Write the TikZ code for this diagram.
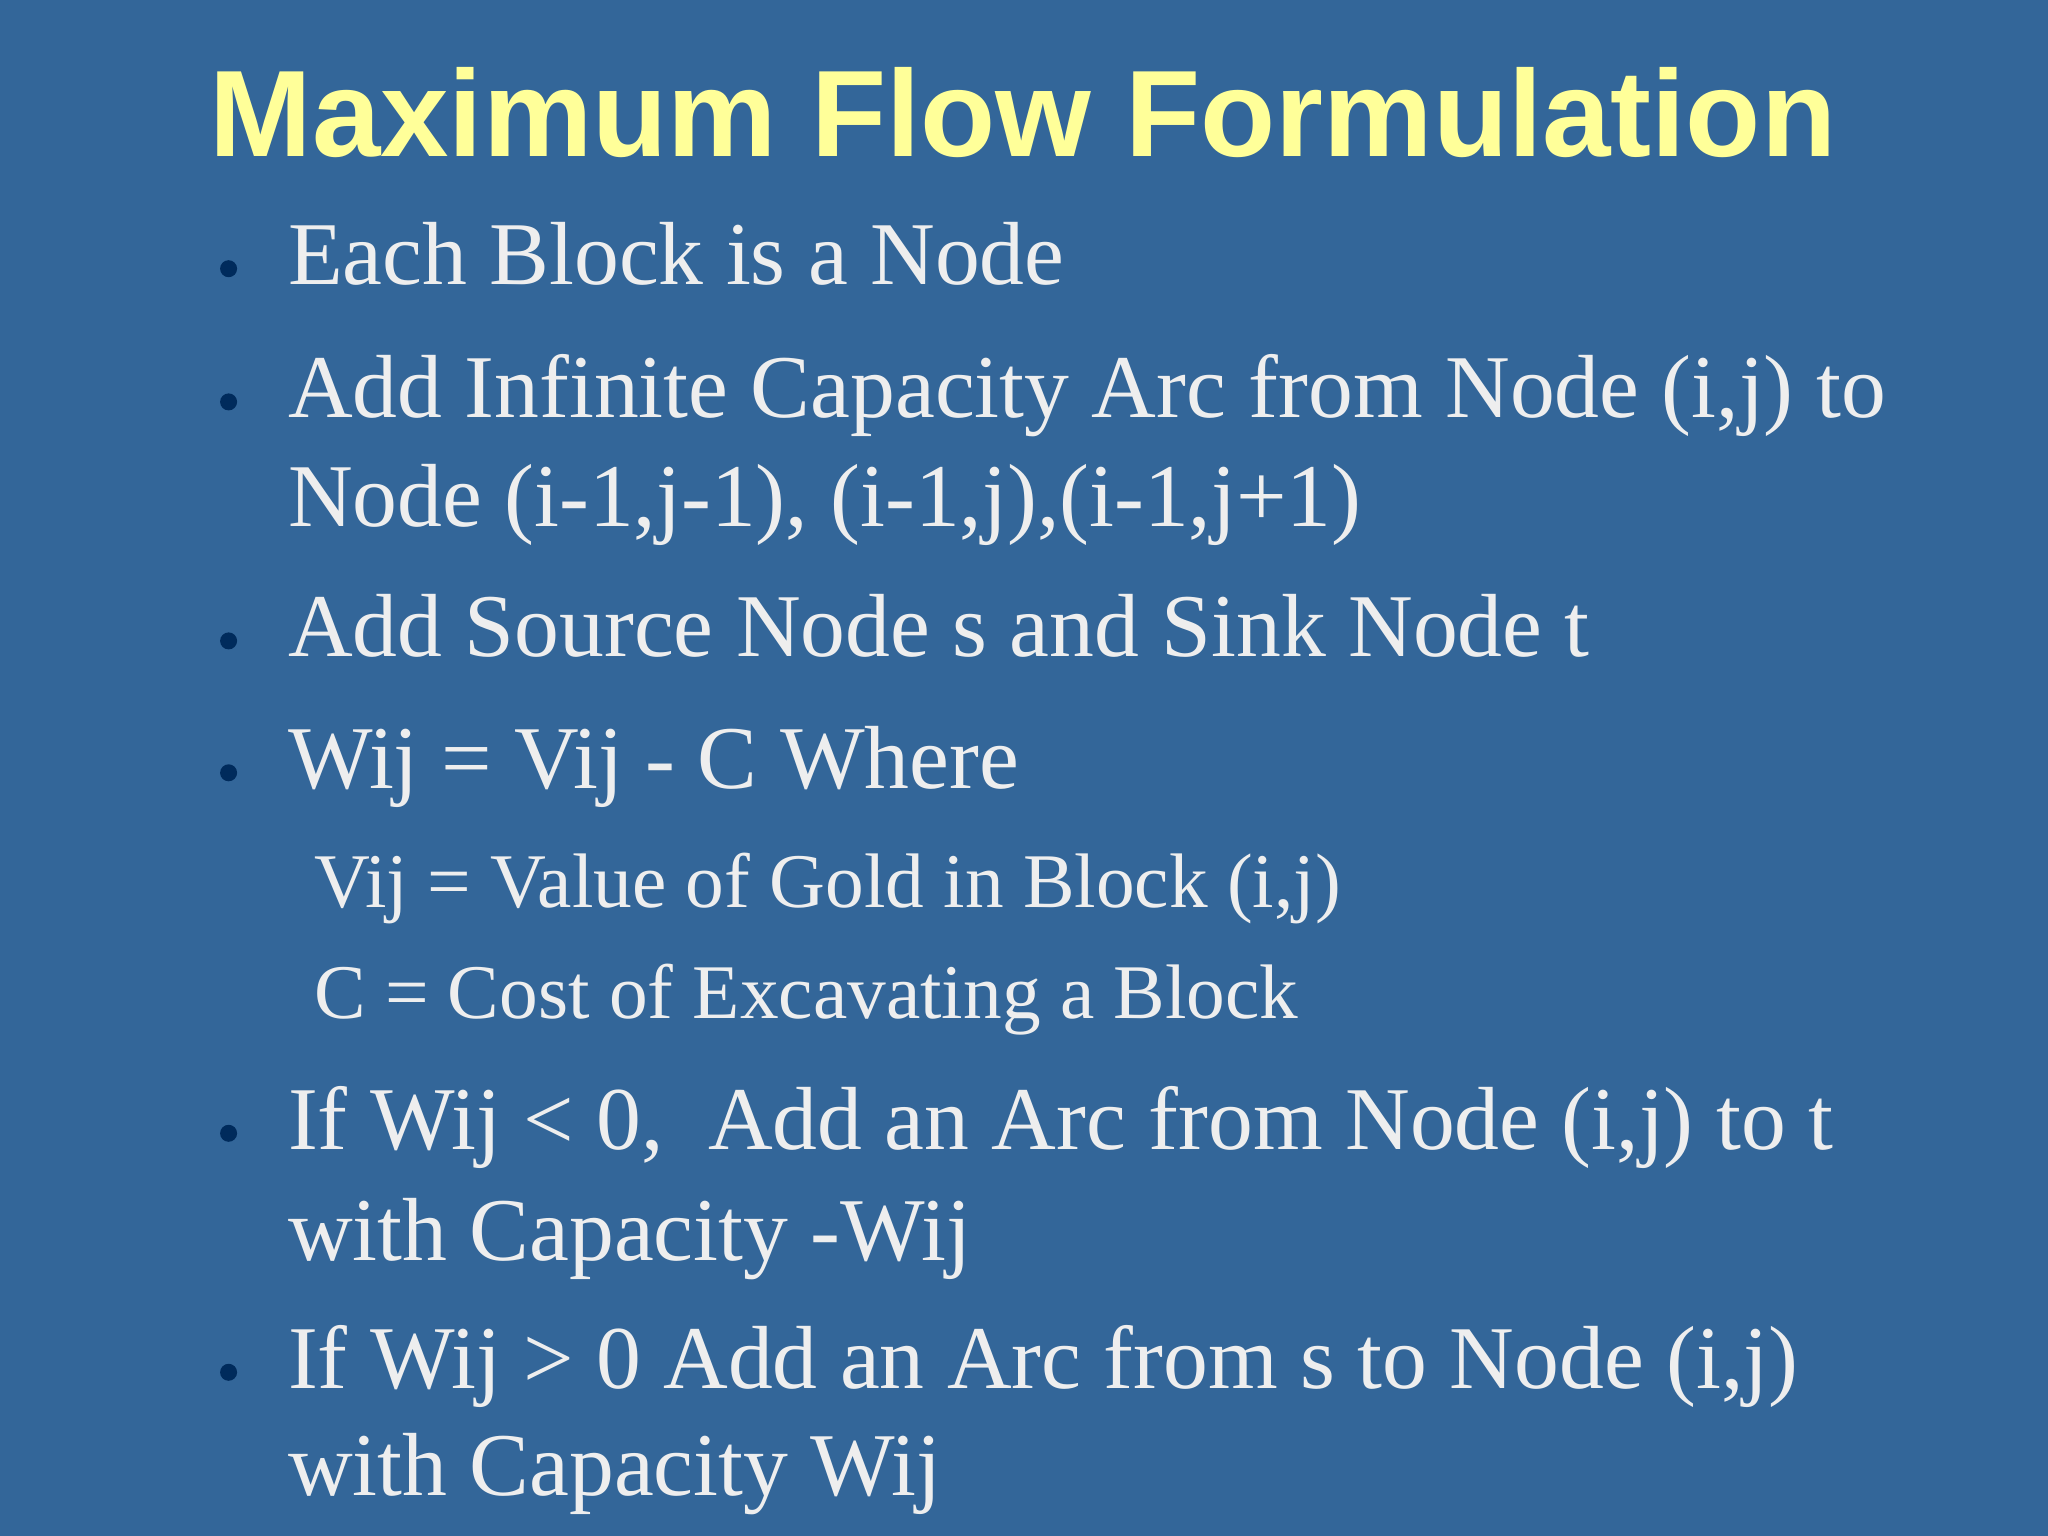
\documentclass[tikz,border=0pt]{standalone}
\usepackage{fontspec}
\setmainfont{Liberation Serif}
\newfontfamily\titlefont{Liberation Sans}
\definecolor{bg}{HTML}{336699}
\definecolor{ttl}{HTML}{FFFF99}
\definecolor{txt}{HTML}{EEEEEE}
\definecolor{bul}{HTML}{002B5C}
\tikzset{
 line/.style={anchor=base west,inner sep=0pt,text=txt,font=\fontsize{25.5pt}{30pt}\selectfont},
 bulletdot/.style={circle,fill=bul,inner sep=0pt,minimum size=0.17cm}
}
\begin{document}
\begin{tikzpicture}
\fill[bg] (0,0) rectangle (20.48,-15.36);
\useasboundingbox (0,0) rectangle (20.48,-15.36);
\node[anchor=base west,inner sep=0pt,text=ttl,font=\titlefont\bfseries\fontsize{35pt}{40pt}\selectfont] (title) at (2.09,-1.567) {Maximum Flow Formulation};
\foreach \n/\y in {b1/2.847,b2/4.179,b3/6.569,b4/7.888,b5/11.493,b6/13.883}
  \node[bulletdot] (\n) at (2.286,-\y+0.16) {};
\node[line] (l1) at (2.873,-2.847) {Each Block is a Node};
\node[line] (l2) at (2.873,-4.179) {Add Infinite Capacity Arc from Node (i,j) to};
\node[line] (l3) at (2.873,-5.263) {Node (i-1,j-1), (i-1,j),(i-1,j+1)};
\node[line] (l4) at (2.873,-6.569) {Add Source Node s and Sink Node t};
\node[line] (l5) at (2.873,-7.888) {Wij = Vij - C Where};
\node[line,font=\fontsize{22pt}{26pt}\selectfont] (l6) at (3.134,-9.077) {Vij = Value of Gold in Block (i,j)};
\node[line,font=\fontsize{22pt}{26pt}\selectfont] (l7) at (3.134,-10.187) {C = Cost of Excavating a Block};
\node[line] (l8) at (2.873,-11.493) {If Wij < 0,\ \ Add an Arc from Node (i,j) to t};
\node[line] (l9) at (2.873,-12.603) {with Capacity -Wij};
\node[line] (l10) at (2.873,-13.883) {If Wij > 0 Add an Arc from s to Node (i,j)};
\node[line] (l11) at (2.873,-14.954) {with Capacity Wij};
\end{tikzpicture}
\end{document}
